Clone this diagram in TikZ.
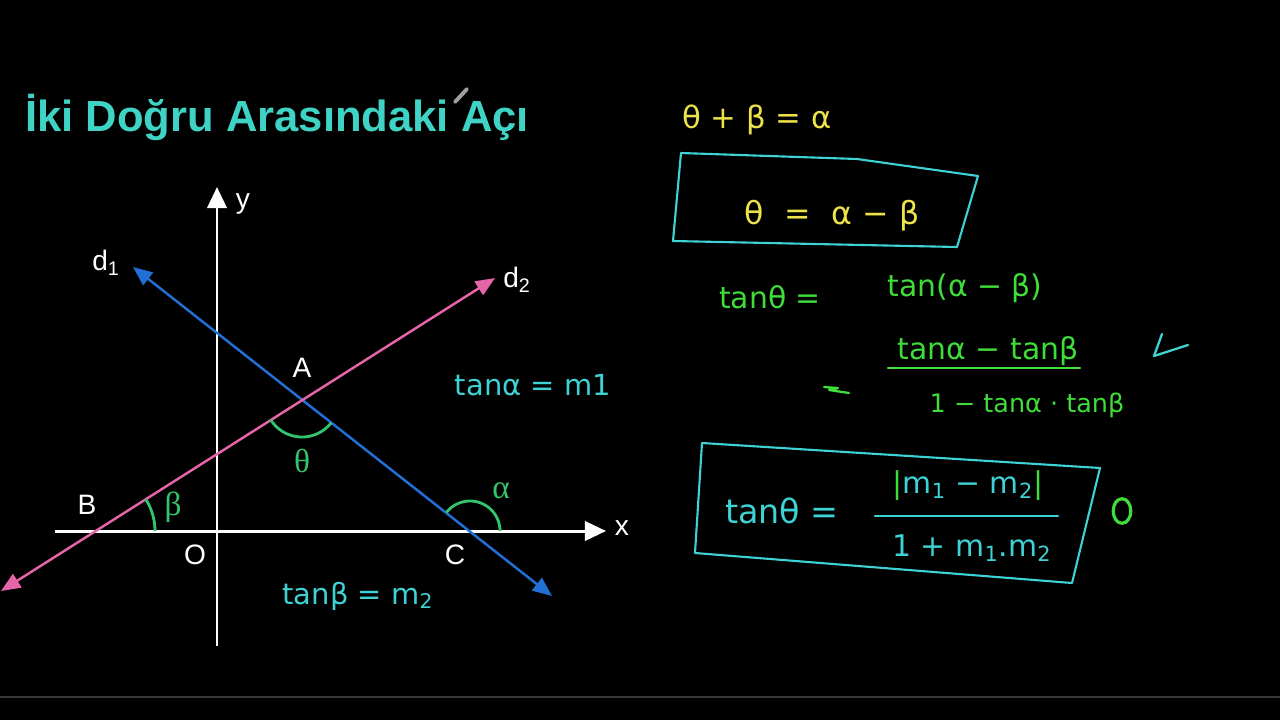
\documentclass[tikz,border=0pt]{standalone}
\usepackage{fontspec}
\setmainfont{Liberation Sans}
\newfontfamily\grk{Liberation Serif}
\newfontfamily\hand{DejaVu Sans}
\usetikzlibrary{arrows.meta,shapes.geometric}
\definecolor{ttl}{HTML}{3FD3C6}
\definecolor{dblue}{HTML}{2270D6}
\definecolor{dpink}{HTML}{E665A8}
\definecolor{agreen}{HTML}{34C46E}
\definecolor{hyel}{HTML}{EEE24A}
\definecolor{hgreen}{HTML}{3FDC3A}
\definecolor{hcyan}{HTML}{3ED2D4}
\begin{document}
\begin{tikzpicture}[x=0.02cm,y=-0.02cm,
  axisline/.style={white,line width=1.7pt,-{Triangle[length=12pt,width=11pt]}},
  bline/.style={dblue,line width=1.4pt,{Triangle[length=11pt,width=9pt]}-{Triangle[length=11pt,width=9pt]}},
  pline/.style={dpink,line width=1.4pt,{Triangle[length=11pt,width=9pt]}-{Triangle[length=11pt,width=9pt]}},
  lbl/.style={white,font=\fontsize{16}{18}\selectfont,inner sep=0pt},
  glbl/.style={agreen,font=\grk\fontsize{19}{21}\selectfont,inner sep=0pt},
  angarc/.style={agreen,line width=1.6pt},
  hy/.style={hyel,font=\hand\fontsize{17.5}{19}\selectfont,inner sep=0pt},
  hg/.style={hgreen,font=\hand\fontsize{17}{19}\selectfont,inner sep=0pt},
  hc/.style={hcyan,font=\hand\fontsize{17}{19}\selectfont,inner sep=0pt},
  hbox/.style={hcyan,line width=1.2pt,line join=round},
  hstroke/.style={line width=1.3pt,line cap=round,line join=round}]
\fill[black] (0,0) rectangle (1280,720);
\useasboundingbox (0,0) rectangle (1280,720);
% bottom gray line
\coordinate (gl1) at (0,697);
\coordinate (gl2) at (1280,697);
\draw[gray!45!black,line width=0.6pt] (gl1) -- (gl2);
% title
\node[ttl,anchor=base west,inner sep=0pt,font=\bfseries\fontsize{24.8}{28}\selectfont] (title) at (25,131) {İki Doğru Arasındaki Açı};
% pen cursor
\coordinate (pen1) at (455,102);
\coordinate (pen2) at (467,89);
\draw[gray!75,line width=2.2pt,line cap=round] (pen1) -- (pen2);
% axes
\coordinate (xs) at (55,531);
\coordinate (xe) at (606,531);
\coordinate (ys) at (217,646);
\coordinate (ye) at (217,187);
\draw[axisline] (xs) -- (xe);
\draw[axisline] (ys) -- (ye);
\node[lbl] (ylab) at (243,204) {y};
\node[lbl] (xlab) at (622,528) {x};
\node[lbl] (O) at (195,555) {O};
% lines
\coordinate (d1a) at (133,267);
\coordinate (d1b) at (552,596);
\coordinate (d2a) at (1,591);
\coordinate (d2b) at (495,278);
\draw[bline] (d1a) -- (d1b);
\draw[pline] (d2a) -- (d2b);
\node[lbl] (d1lab) at (106,263) {d\textsubscript{1}};
\node[lbl] (d2lab) at (517,280) {d\textsubscript{2}};
\coordinate (Apt) at (302,400);
\coordinate (Bpt) at (96,531);
\coordinate (Cpt) at (470,531);
\node[lbl] (A) at (302,368) {A};
\node[lbl] (B) at (87,505) {B};
\node[lbl] (C) at (455,555) {C};
% angle arcs
\draw[angarc] plot[domain=38:147.6,samples=40] ({302+37*cos(\x)},{400+37*sin(\x)});
\draw[angarc] plot[domain=-32.5:0,samples=20] ({96+59*cos(\x)},{531+59*sin(\x)});
\draw[angarc] plot[domain=-142:0,samples=40] ({470+30*cos(\x)},{531+30*sin(\x)});
\node[glbl] (theta) at (302,461) {θ};
\node[glbl] (alpha) at (501,491) {α};
\node[glbl] (beta) at (173,507) {β};
% slope notes
\node[hc,font=\hand\fontsize{16.5}{18}\selectfont] (tana) at (533,385) {tanα = m1};
\node[hc,font=\hand\fontsize{16.5}{18}\selectfont] (tanb) at (358,596) {tanβ = m\textsubscript{2}};
% yellow
\node[hy] (eq1) at (757,120) {θ + β = α};
\coordinate (b1a) at (681,153);
\coordinate (b1b) at (857,159);
\coordinate (b1c) at (978,176);
\coordinate (b1d) at (957,247);
\coordinate (b1e) at (673,241);
\draw[hbox] (b1a) -- (b1b) -- (b1c) -- (b1d) -- (b1e) -- cycle;
\node[hy,font=\hand\fontsize{18}{20}\selectfont] (eq2) at (832,216) {θ\,\, = \,\,α − β};
% green
\node[hg] (tt1) at (770,297) {tanθ =};
\node[hg] (tt2) at (965,288) {tan(α − β)};
\node[hg] (num1) at (988,351) {tanα − tanβ};
\coordinate (fb1a) at (888,368);
\coordinate (fb1b) at (1080,368);
\draw[hgreen,hstroke] (fb1a) -- (fb1b);
\node[hg,font=\hand\fontsize{14.5}{16}\selectfont] (den1) at (1027,405) {1 − tanα · tanβ};
\coordinate (eqa) at (824,387);
\coordinate (eqb) at (838,388);
\coordinate (eqc) at (829,390);
\coordinate (eqd) at (849,393);
\draw[hgreen,hstroke] (eqa) -- (eqb) -- (eqc) -- (eqd);
% check mark
\coordinate (ck1) at (1162,334);
\coordinate (ck2) at (1154,356);
\coordinate (ck3) at (1188,345);
\draw[hcyan,hstroke] (ck1) -- (ck2) -- (ck3);
% final box
\coordinate (b2a) at (702,443);
\coordinate (b2b) at (1100,468);
\coordinate (b2c) at (1072,583);
\coordinate (b2d) at (695,553);
\draw[hbox] (b2a) -- (b2b) -- (b2c) -- (b2d) -- cycle;
\node[hc,font=\hand\fontsize{19}{21}\selectfont] (tt3) at (782,511) {tanθ =};
\node[hc] (num2) at (968,486) {\textcolor{hgreen}{|}m\textsubscript{1} − m\textsubscript{2}\textcolor{hgreen}{|}};
\coordinate (fb2a) at (875,516);
\coordinate (fb2b) at (1058,516);
\draw[hcyan,hstroke] (fb2a) -- (fb2b);
\node[hc] (den2) at (972,548) {1 + m\textsubscript{1}.m\textsubscript{2}};
\node[draw=hgreen,line width=1.8pt,ellipse,minimum width=10pt,minimum height=14pt,inner sep=0pt] (mark) at (1122,511) {};
\end{tikzpicture}
\end{document}
